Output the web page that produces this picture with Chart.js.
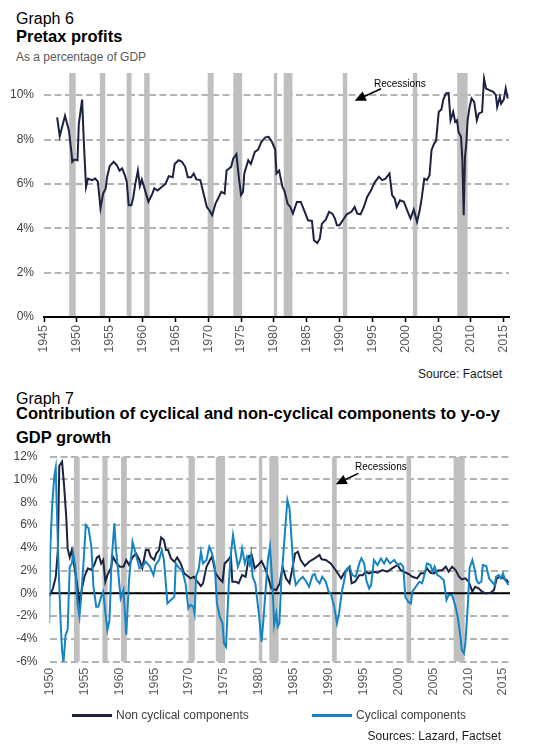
<!DOCTYPE html>
<html><head><meta charset="utf-8">
<script src="https://cdn.jsdelivr.net/npm/chart.js@4/dist/chart.umd.min.js"></script>
<style>
body{margin:0;width:534px;height:752px;background:#fff;position:relative;overflow:hidden;font-family:"Liberation Sans",Arial,sans-serif;}
.t{position:absolute;white-space:nowrap;line-height:1;}
canvas{position:absolute;left:0;}
#c1{top:60px;} #c2{top:450px;}
svg{position:absolute;left:0;top:0;}
.lg{position:absolute;height:3px;top:714px;width:40px;}
</style></head>
<body>
<div class="t" style="left:16px;top:11px;font-size:16px;color:#000;">Graph 6</div>
<div class="t" style="left:16px;top:28px;font-size:16.5px;font-weight:bold;color:#000;">Pretax profits</div>
<div class="t" style="left:16px;top:50.5px;font-size:12px;color:#595959;">As a percentage of GDP</div>
<div class="t" style="right:32px;top:368px;font-size:12px;color:#1a1a1a;">Source: Factset</div>
<div class="t" style="left:16px;top:391px;font-size:16px;color:#000;">Graph 7</div>
<div class="t" style="left:16px;top:405px;font-size:16.5px;font-weight:bold;color:#000;">Contribution of cyclical and non-cyclical components to y-o-y</div>
<div class="t" style="left:16px;top:429px;font-size:16.5px;font-weight:bold;color:#000;">GDP growth</div>
<canvas id="c1" width="534" height="310"></canvas>
<canvas id="c2" width="534" height="255"></canvas>
<div class="t" style="left:374px;top:79px;font-size:10px;color:#000;">Recessions</div>
<div class="t" style="left:355px;top:462px;font-size:10px;color:#000;">Recessions</div>
<svg width="534" height="752">
  <line x1="381" y1="88.7" x2="364.7" y2="96.2" stroke="#000" stroke-width="1.5"/>
  <polygon points="354.7,100.7 366.8,100.8 362.6,91.6" fill="#000"/>
  <line x1="358.3" y1="473.3" x2="345.6" y2="479.5" stroke="#000" stroke-width="1.5"/>
  <polygon points="335.7,484.3 347.8,484.0 343.4,475.0" fill="#000"/>
</svg>
<div class="lg" style="left:72px;background:#1c2340;"></div>
<div class="t" style="left:116px;top:709px;font-size:12px;color:#404040;" id="lg1"></div>
<div class="lg" style="left:312px;background:#1584c4;"></div>
<div class="t" style="left:356px;top:709px;font-size:12px;color:#404040;" id="lg2"></div>
<div class="t" style="right:33px;top:730px;font-size:12px;color:#1a1a1a;">Sources: Lazard, Factset</div>
<script>
// ---- Data ----
const recessionStarts = [1948.83, 1953.5, 1957.58, 1960.25, 1969.92, 1973.83, 1980.0, 1981.5, 1990.5, 2001.17, 2007.92];
const recessionEnds   = [1949.83, 1954.33, 1958.33, 1961.08, 1970.83, 1975.17, 1980.5, 1982.83, 1991.17, 2001.83, 2009.5];

const profitYears = [
 1947.0,1947.4,1948.2,1948.8,1949.2,1949.3,1949.6,1950.1,1950.3,1950.8,
 1951.1,1951.4,1951.7,1952.3,1952.8,1953.2,1953.6,1954.0,1954.4,1954.6,
 1955.0,1955.6,1956.1,1956.5,1956.9,1957.3,1957.6,1957.9,1958.3,1958.6,
 1958.9,1959.3,1959.6,1959.9,1960.3,1960.9,1961.5,1961.8,1962.3,1962.9,
 1963.5,1964.0,1964.6,1964.9,1965.5,1966.0,1966.5,1966.9,1967.4,1967.8,
 1968.2,1968.8,1969.3,1969.8,1970.2,1970.6,1971.1,1971.6,1972.0,1972.5,
 1972.8,1973.5,1973.8,1974.3,1974.6,1975.0,1975.3,1975.5,1976.1,1976.5,
 1977.1,1977.6,1978.1,1978.7,1979.2,1979.7,1980.2,1980.4,1980.8,1981.3,
 1981.6,1982.1,1982.5,1982.9,1983.5,1984.1,1984.7,1985.2,1985.8,1986.1,
 1986.6,1987.0,1987.3,1987.9,1988.4,1988.9,1989.3,1989.6,1990.0,1990.5,
 1991.1,1991.8,1992.3,1992.7,1993.2,1993.7,1994.2,1994.8,1995.3,1996.0,
 1996.5,1997.0,1997.6,1998.0,1998.4,1998.7,1999.2,1999.8,2000.3,2000.8,
 2001.3,2001.8,2002.2,2002.5,2002.9,2003.3,2003.7,2004.0,2004.4,2004.7,
 2005.1,2005.5,2005.8,2006.2,2006.6,2006.9,2007.3,2007.6,2007.9,2008.1,
 2008.5,2008.7,2008.9,2009.1,2009.3,2009.5,2009.8,2010.1,2010.5,2010.9,
 2011.2,2011.7,2012.0,2012.3,2012.8,2013.4,2013.8,2014.0,2014.4,2014.6,
 2015.0,2015.3,2015.6];
const profitValues = [
 9.0,8.15,9.07,8.4,7.37,7.0,7.1,7.07,8.7,9.8,
 7.67,5.86,6.24,6.17,6.24,6.1,4.9,5.56,5.8,6.3,
 6.8,7.0,6.84,6.6,6.7,6.4,6.1,5.04,5.04,5.4,
 6.0,6.6,5.9,6.2,5.8,5.2,5.56,5.8,5.7,5.86,
 6.0,6.35,6.3,6.9,7.07,7.0,6.77,6.3,6.3,6.47,
 6.2,6.17,5.56,4.96,4.8,4.59,5.1,5.4,5.64,5.56,
 6.6,6.77,7.14,7.34,6.47,5.5,5.64,6.47,7.07,6.9,
 7.44,7.55,7.9,8.1,8.12,7.9,7.55,6.47,6.6,5.86,
 5.7,5.1,4.96,4.66,5.19,5.19,4.74,4.36,4.33,3.46,
 3.34,3.53,4.2,4.39,4.74,4.66,4.44,4.14,4.14,4.36,
 4.63,4.74,4.96,4.66,4.63,4.96,5.41,5.71,6.05,6.32,
 6.17,6.24,6.47,5.49,5.34,4.96,5.26,5.19,4.81,4.44,
 4.84,4.29,4.81,5.34,6.24,6.17,6.39,7.52,7.82,7.94,
 9.25,9.35,9.8,10.08,10.1,8.87,9.25,8.8,8.87,8.35,
 8.12,7.07,4.59,7.22,7.82,8.87,9.47,9.85,9.7,8.87,
 9.17,9.25,10.75,10.3,10.23,10.15,10.0,9.47,9.92,9.62,
 9.8,10.3,9.85];

const nonCyclicalYears = [
 1950.0,1950.5,1950.9,1951.2,1951.4,1951.8,1952.1,1952.4,1952.6,1952.9,
 1953.2,1953.4,1953.8,1954.3,1954.7,1955.0,1955.5,1956.0,1956.4,1956.8,
 1957.1,1957.4,1957.7,1958.0,1958.3,1958.8,1959.1,1959.6,1960.1,1960.6,
 1961.0,1961.4,1961.9,1962.4,1962.9,1963.3,1963.8,1964.2,1964.5,1965.0,
 1965.3,1965.7,1966.0,1966.4,1966.7,1967.0,1967.4,1967.9,1968.3,1968.8,
 1969.3,1969.8,1970.2,1970.7,1971.2,1971.7,1972.0,1972.5,1973.0,1973.3,
 1973.8,1974.3,1974.8,1975.1,1975.6,1976.0,1976.2,1976.7,1977.1,1977.6,
 1978.1,1978.6,1979.0,1979.4,1979.9,1980.4,1981.0,1981.3,1981.8,1982.5,
 1983.0,1983.4,1983.9,1984.4,1984.9,1985.2,1985.6,1986.0,1986.6,1987.2,
 1988.0,1988.7,1989.0,1989.6,1990.3,1991.0,1991.8,1992.2,1993.0,1993.3,
 1993.8,1994.4,1994.9,1995.3,1995.8,1996.5,1997.0,1997.7,1998.4,1999.1,
 1999.9,2000.3,2000.8,2001.5,2002.0,2002.7,2003.2,2003.7,2004.1,2004.6,
 2005.1,2005.6,2006.3,2006.8,2007.2,2007.7,2008.2,2008.7,2009.1,2009.6,
 2010.1,2010.6,2011.0,2011.5,2012.0,2012.5,2013.2,2013.7,2014.1,2014.6,
 2015.1,2015.5,2015.8];
const nonCyclicalValues = [
 -0.2,0.44,1.46,3.8,11.2,11.56,9.4,6.7,3.95,3.16,
 3.8,2.93,1.46,-0.88,0.58,1.46,2.2,2.05,2.49,3.16,
 3.28,2.63,2.93,1.02,1.6,2.2,3.22,2.63,2.34,2.34,
 2.93,2.49,3.16,3.5,2.93,2.2,3.8,3.8,3.22,2.93,
 3.5,3.8,4.9,4.68,3.8,3.8,3.07,2.78,3.16,2.63,
 1.76,1.52,1.32,1.46,1.02,0.64,0.88,2.34,2.93,3.22,
 1.76,1.32,1.02,2.63,2.93,3.28,1.02,1.02,0.88,1.6,
 1.46,3.28,3.37,2.2,2.49,2.84,2.05,1.46,0.44,0.29,
 0.88,2.34,1.32,0.88,2.49,3.5,3.66,2.93,2.4,2.78,
 3.07,3.37,2.99,2.93,2.63,2.05,1.32,1.76,2.34,0.88,
 1.02,1.6,1.6,1.9,1.76,1.9,1.81,2.05,1.9,2.2,
 2.49,2.05,1.9,1.7,1.46,1.32,1.76,1.76,2.2,1.81,
 1.76,1.99,2.05,2.34,1.9,2.34,2.05,1.46,1.23,1.32,
 1.02,0.15,0.58,0.44,0.15,0.0,0.06,0.29,1.32,1.46,
 1.32,1.17,0.94];

const cyclicalYears = [
 1949.95,1950.1,1950.4,1950.7,1950.9,1951.0,1951.3,1951.6,1951.8,1952.0,
 1952.3,1952.6,1952.9,1953.2,1953.4,1953.7,1954.0,1954.3,1954.5,1954.9,
 1955.2,1955.6,1956.0,1956.3,1956.7,1957.0,1957.4,1957.7,1958.1,1958.3,
 1958.6,1958.9,1959.3,1959.5,1960.0,1960.2,1960.6,1961.0,1961.4,1961.9,
 1962.4,1962.9,1963.3,1963.8,1964.4,1964.9,1965.2,1965.7,1966.1,1966.4,
 1966.9,1967.4,1967.9,1968.1,1968.6,1969.0,1969.5,1969.9,1970.2,1970.6,
 1970.8,1971.0,1971.4,1971.7,1972.0,1972.5,1972.9,1973.3,1973.7,1974.0,
 1974.4,1974.8,1975.0,1975.3,1975.7,1976.0,1976.3,1976.7,1977.0,1977.4,
 1977.6,1978.0,1978.3,1978.7,1978.9,1979.1,1979.5,1980.0,1980.4,1980.7,
 1981.0,1981.3,1981.6,1982.0,1982.2,1982.5,1982.7,1982.95,1983.2,1983.4,
 1983.8,1984.1,1984.4,1984.7,1985.0,1985.3,1985.8,1986.3,1986.8,1987.2,
 1987.7,1988.0,1988.3,1988.7,1989.1,1989.6,1990.0,1990.3,1990.8,1991.2,
 1991.5,1991.9,1992.2,1992.5,1993.0,1993.4,1993.9,1994.4,1994.7,1995.1,
 1995.4,1995.8,1996.1,1996.5,1997.0,1997.5,1997.95,1998.3,1998.8,1999.4,
 1999.9,2000.3,2000.7,2001.0,2001.4,2001.8,2002.0,2002.5,2003.0,2003.4,
 2003.8,2004.1,2004.6,2004.9,2005.2,2005.6,2006.0,2006.5,2006.9,2007.2,
 2007.7,2008.2,2008.5,2008.9,2009.1,2009.4,2009.6,2010.0,2010.2,2010.6,
 2010.9,2011.2,2011.5,2011.9,2012.1,2012.6,2013.0,2013.4,2013.8,2014.0,
 2014.4,2014.7,2015.0,2015.3,2015.8];
const cyclicalValues = [
 -2.63,3.8,7.9,10.4,11.06,8.5,2.34,-2.63,-4.98,-6.1,
 -3.66,-3.2,2.34,2.63,3.5,2.34,-0.88,-2.05,-0.59,2.93,
 6.0,5.7,4.1,0.58,-1.17,-1.17,-0.29,0.15,-2.2,-3.22,
 -2.34,2.93,6.15,4.1,0.88,-0.44,0.29,-3.66,1.17,4.54,
 3.37,2.2,2.34,2.78,2.34,1.6,2.49,2.93,3.8,2.93,
 -0.88,-0.59,-0.29,2.63,2.2,2.05,0.88,-1.32,-1.02,-1.17,
 -1.76,1.46,2.2,3.66,2.63,2.93,4.1,3.5,2.34,-0.88,
 -2.05,-2.63,-4.39,-4.68,0.88,3.5,5.12,3.5,2.34,3.07,
 3.95,2.63,3.22,2.49,3.37,1.46,0.88,-1.76,-4.24,-2.0,
 0.5,3.0,4.1,0.29,-2.78,-1.76,-2.93,-2.63,0.88,2.49,
 5.85,8.2,7.46,4.68,1.76,0.73,1.17,1.46,1.02,0.58,
 1.6,1.7,1.17,0.88,1.46,1.02,0.15,0.0,-1.17,-2.63,
 -1.76,0.15,1.02,2.05,2.34,1.6,1.46,2.63,3.07,2.63,
 1.17,0.44,0.73,2.93,2.49,3.07,2.63,3.07,2.63,2.93,
 2.49,2.63,2.34,-0.29,-0.73,-0.88,0.15,0.58,1.02,0.88,
 1.76,2.63,2.49,1.9,2.34,1.6,1.46,1.17,-0.59,-0.15,
 -0.15,-1.17,-2.05,-3.8,-4.98,-5.27,-4.39,-0.59,2.2,2.93,
 2.2,1.17,0.88,1.02,2.49,2.4,1.32,1.02,0.73,1.46,
 1.6,1.32,1.76,1.17,0.73];

const topYearTicks = [1945,1950,1955,1960,1965,1970,1975,1980,1985,1990,1995,2000,2005,2010,2015];
const topValueTicks = [0,2,4,6,8,10];
const bottomYearTicks = [1950,1955,1960,1965,1970,1975,1980,1985,1990,1995,2000,2005,2010,2015];
const bottomValueTicks = [-6,-4,-2,0,2,4,6,8,10,12];
const seriesLabels = ['Non cyclical components', 'Cyclical components'];

// ---- Rendering ----
document.getElementById('lg1').textContent = seriesLabels[0];
document.getElementById('lg2').textContent = seriesLabels[1];

Chart.defaults.font.family = "'Liberation Sans', Arial, sans-serif";
Chart.defaults.animation = false;

const pairs = (xs, ys) => xs.map((x, i) => ({x, y: ys[i]}));
const noPad = s => { s.paddingTop = 0; s.paddingBottom = 0; s.paddingLeft = 0; s.paddingRight = 0; };

const bandsPlugin = {
  id: 'bands',
  beforeDatasetsDraw(chart, args, opts) {
    const {ctx, chartArea: a, scales: {x, y}} = chart;
    ctx.save();
    ctx.beginPath(); ctx.rect(a.left, a.top, a.right - a.left, a.bottom - a.top); ctx.clip();
    ctx.fillStyle = '#bfbfbf';
    recessionStarts.forEach((s, i) => {
      const x1 = x.getPixelForValue(s), x2 = x.getPixelForValue(recessionEnds[i]);
      ctx.fillRect(x1, a.top, x2 - x1, a.bottom - a.top);
    });
    if (opts.zeroLine) {
      const y0 = y.getPixelForValue(0);
      ctx.strokeStyle = '#000'; ctx.lineWidth = 2;
      ctx.beginPath(); ctx.moveTo(a.left, y0); ctx.lineTo(a.right, y0); ctx.stroke();
    }
    ctx.restore();
  }
};

const gridDash = [7, 3.5];

new Chart(document.getElementById('c1'), {
  type: 'line',
  data: { datasets: [{
    data: pairs(profitYears, profitValues),
    borderColor: '#1c2340', borderWidth: 2, pointRadius: 0, tension: 0
  }]},
  options: {
    responsive: false, devicePixelRatio: 1,
    layout: { padding: { top: 13, right: 25, left: 0, bottom: 0 } },
    plugins: { legend: { display: false }, tooltip: { enabled: false }, bands: { zeroLine: false } },
    scales: {
      x: {
        type: 'linear', min: 1945, max: 2015.8,
        afterBuildTicks: s => { s.ticks = topYearTicks.map(v => ({value: v})); },
        afterFit: s => { s.height = 53; noPad(s); },
        ticks: { autoSkip: false, minRotation: 90, maxRotation: 90, padding: 3, color: '#595959',
                 font: { size: 12.5 }, callback: v => String(v) },
        grid: { display: true, drawOnChartArea: false, drawTicks: true, tickLength: 5, tickColor: '#000', tickWidth: 1.5 },
        border: { display: true, color: '#000', width: 2, z: 1 }
      },
      y: {
        min: 0, max: 11,
        afterBuildTicks: s => { s.ticks = topValueTicks.map(v => ({value: v})); },
        afterFit: s => { s.width = 44; noPad(s); },
        ticks: { padding: 10, color: '#404040', font: { size: 12 }, callback: v => v + '%' },
        grid: { color: '#b3b3b3', lineWidth: 2, drawTicks: false },
        border: { display: false, dash: gridDash }
      }
    }
  },
  plugins: [bandsPlugin]
});

new Chart(document.getElementById('c2'), {
  type: 'line',
  data: { datasets: [
    { label: seriesLabels[1], data: pairs(cyclicalYears, cyclicalValues),
      borderColor: '#1584c4', borderWidth: 2, pointRadius: 0, tension: 0, order: 1 },
    { label: seriesLabels[0], data: pairs(nonCyclicalYears, nonCyclicalValues),
      borderColor: '#1c2340', borderWidth: 2, pointRadius: 0, tension: 0, order: 2 }
  ]},
  options: {
    responsive: false, devicePixelRatio: 1,
    layout: { padding: { top: 6.7, right: 24, left: 0, bottom: 0 } },
    plugins: { legend: { display: false }, tooltip: { enabled: false }, bands: { zeroLine: true } },
    scales: {
      x: {
        type: 'linear', min: 1950, max: 2016,
        afterBuildTicks: s => { s.ticks = bottomYearTicks.map(v => ({value: v})); },
        afterFit: s => { s.height = 43.3; noPad(s); },
        ticks: { autoSkip: false, minRotation: 90, maxRotation: 90, padding: 6, color: '#595959',
                 font: { size: 12.5 }, callback: v => String(v) },
        grid: { display: false, drawTicks: false },
        border: { display: false }
      },
      y: {
        min: -6, max: 12,
        afterBuildTicks: s => { s.ticks = bottomValueTicks.map(v => ({value: v})); },
        afterFit: s => { s.width = 49.5; noPad(s); },
        ticks: { padding: 12, color: '#404040', font: { size: 12 }, callback: v => v + '%' },
        grid: { color: '#b3b3b3', lineWidth: 2, drawTicks: false },
        border: { display: false, dash: gridDash }
      }
    }
  },
  plugins: [bandsPlugin]
});
</script>
</body></html>
